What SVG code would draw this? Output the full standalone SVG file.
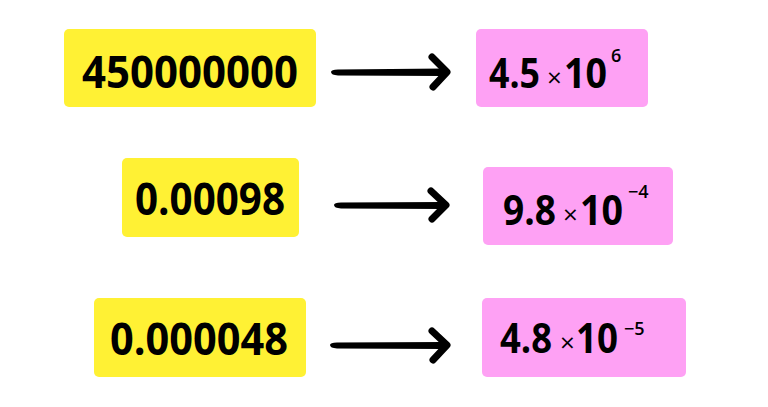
<svg xmlns="http://www.w3.org/2000/svg" width="768" height="407" viewBox="0 0 768 407">
<style>
.y{fill:#fff134}
.p{fill:#fea1f4}
.t{font-family:"Open Sans","DejaVu Sans",sans-serif;font-weight:700;fill:#000;font-size:44px}
.m{font-size:41px}
.x{font-family:"DejaVu Sans",sans-serif;font-size:20px;font-weight:400}
.sup{font-size:18px;font-weight:600}
.shaft{fill:#000}
.head{fill:none;stroke:#000;stroke-width:7;stroke-linecap:round;stroke-linejoin:round}
</style>
<rect width="768" height="407" fill="#fff"/>
<g id="n1">
<rect class="y" x="64" y="29" width="252" height="78" rx="5"/>
<text class="t" x="82" y="88" textLength="216" lengthAdjust="spacingAndGlyphs">450000000</text>
</g>
<g id="n2">
<rect class="p" x="476" y="29" width="172" height="78" rx="5"/>
<text class="t m" y="88"><tspan x="489" textLength="51" lengthAdjust="spacingAndGlyphs">4.5</tspan><tspan class="x" x="546" y="84">×</tspan><tspan x="564" y="88" textLength="43" lengthAdjust="spacingAndGlyphs">10</tspan><tspan class="sup" x="611" y="62">6</tspan></text>
</g>
<g id="n3">
<rect class="y" x="122" y="158" width="177" height="79" rx="5"/>
<text class="t" x="135" y="215" textLength="150" lengthAdjust="spacingAndGlyphs">0.00098</text>
</g>
<g id="n4">
<rect class="p" x="483" y="167" width="190" height="78" rx="5"/>
<text class="t m" y="225"><tspan x="503" textLength="53" lengthAdjust="spacingAndGlyphs">9.8</tspan><tspan class="x" x="562" y="221">×</tspan><tspan x="580" y="225" textLength="43" lengthAdjust="spacingAndGlyphs">10</tspan><tspan class="sup" x="628" y="198">−4</tspan></text>
</g>
<g id="n5">
<rect class="y" x="94" y="298" width="212" height="79" rx="5"/>
<text class="t" x="110" y="355" textLength="178" lengthAdjust="spacingAndGlyphs">0.000048</text>
</g>
<g id="n6">
<rect class="p" x="482" y="298" width="204" height="79" rx="5"/>
<text class="t m" y="353"><tspan x="500" textLength="52" lengthAdjust="spacingAndGlyphs">4.8</tspan><tspan class="x" x="559" y="349">×</tspan><tspan x="576" y="353" textLength="42" lengthAdjust="spacingAndGlyphs">10</tspan><tspan class="sup" x="624" y="335">−5</tspan></text>
</g>
<g id="connectors">
<path class="shaft" d="M331,72 Q331,69.5 338,69.5 L444,68.5 L444,76 L338,75.5 Q331,75 331,72 Z"/>
<polyline class="head" points="432,57 447,72 433,87"/>
<path class="shaft" d="M334,205 Q334,202.5 341,202.5 L443,202 L443,209 L341,208.5 Q334,208 334,205 Z"/>
<polyline class="head" points="431,191 446,205 432,219"/>
<path class="shaft" d="M330,345 Q330,342.5 337,342.5 L444,342 L444,349 L337,348.5 Q330,348 330,345 Z"/>
<polyline class="head" points="432,331 447,345 433,360"/>
</g>
</svg>
